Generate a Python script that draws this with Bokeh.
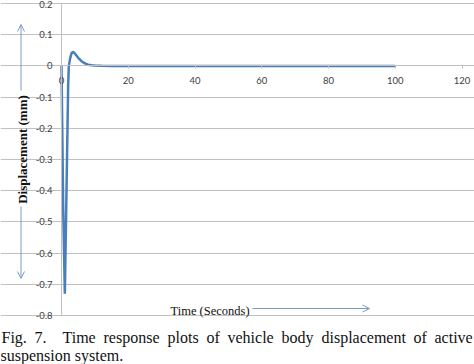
import math
from bokeh.plotting import figure
from bokeh.models import Range1d, FixedTicker, Label, Arrow, OpenHead
from bokeh.embed import file_html
from bokeh.resources import INLINE

# Data
time_s = [0, 0.5, 1.0, 1.5, 2.0, 2.2, 2.6, 3.0, 3.4, 4.0, 5.0, 6.0, 7.0, 8.0, 9.0, 10, 12, 15,
          20, 30, 40, 50, 60, 70, 80, 90, 100]
displacement_mm = [0, -0.45, -0.73, -0.40, -0.06, 0.0, 0.025, 0.040, 0.045, 0.040, 0.026, 0.015,
                   0.008, 0.004, 0.002, 0.001, 0.0003, 0.0,
                   0, 0, 0, 0, 0, 0, 0, 0, 0]

x_ticks = [0, 20, 40, 60, 80, 100, 120]
y_ticks = [0.2, 0.1, 0, -0.1, -0.2, -0.3, -0.4, -0.5, -0.6, -0.7, -0.8]
y_tick_labels = ["0.2", "0.1", "0", "-0.1", "-0.2", "-0.3", "-0.4", "-0.5", "-0.6", "-0.7", "-0.8"]

y_label_text = "Displacement (mm)"
x_label_text = "Time (Seconds)"
caption_line1_words = ["Fig.", "7.", "Time", "response", "plots", "of", "vehicle", "body",
                       "displacement", "of", "active"]
caption_line2 = "suspension system."

W, H = 474, 364
# plot-area placement in pixels (left, right, top, bottom)
PL, PR, PT, PB = 61.0, 461.5, 3.0, 315.0
XMIN, XMAX = 0.0, 120.0
YMIN, YMAX = -0.8, 0.2
sx = (PR - PL) / (XMAX - XMIN)
sy = (PB - PT) / (YMAX - YMIN)
x_range = Range1d(XMIN - PL / sx, XMAX + (W - PR) / sx)
y_range = Range1d(YMIN - (H - PB) / sy, YMAX + PT / sy)

p = figure(width=W, height=H, output_backend="svg", toolbar_location=None,
           x_range=x_range, y_range=y_range,
           min_border=0, min_border_left=0, min_border_right=0,
           min_border_top=0, min_border_bottom=0)
p.outline_line_color = None
p.background_fill_color = "white"
p.border_fill_color = "white"

grid_col = "#c0c0c0"
p.xgrid.visible = False
p.ygrid.ticker = FixedTicker(ticks=y_ticks)
p.ygrid.grid_line_color = grid_col
p.ygrid.grid_line_width = 1
p.ygrid.bounds = (XMIN, XMAX)

# x axis crossing at y=0
xa = p.xaxis[0]
xa.fixed_location = 0
xa.bounds = (XMIN, XMAX)
xa.ticker = FixedTicker(ticks=x_ticks)
xa.axis_line_color = grid_col
xa.major_tick_line_color = grid_col
xa.major_tick_out = 3
xa.major_tick_in = 0
xa.minor_tick_line_color = None
xa.major_label_standoff = 8
xa.major_label_text_font = "Lato"
xa.major_label_text_font_size = "9.5px"
xa.major_label_text_color = "#404040"

ya = p.yaxis[0]
ya.fixed_location = 0
ya.bounds = (YMIN, YMAX)
ya.ticker = FixedTicker(ticks=y_ticks)
ya.major_label_overrides = {t: s for t, s in zip(y_ticks, y_tick_labels)}
ya.axis_line_color = grid_col
ya.major_tick_line_color = grid_col
ya.major_tick_out = 4
ya.major_tick_in = 0
ya.minor_tick_line_color = None
ya.major_label_standoff = 5
ya.major_label_text_font = "Lato"
ya.major_label_text_font_size = "9.5px"
ya.major_label_text_color = "#404040"

p.line(time_s, displacement_mm, line_color="#4a7ebb", line_width=2.5)

serif = "Liberation Serif"
arrow_col = "#7b9cc8"
text_col = "#111111"


def sc(px, py):
    """pixel (from top-left) -> frame screen units (from bottom-left)"""
    return px, H - py


# y label and arrows
lx, ly = sc(22, 149)
p.add_layout(Label(x=lx, y=ly, x_units="screen", y_units="screen", text=y_label_text,
                   angle=math.pi / 2, text_align="center", text_baseline="middle",
                   text_font=serif, text_font_style="bold", text_font_size="13px",
                   text_color=text_col))
for (y0, y1) in [(90, 24), (206, 278)]:
    ax, ay0 = sc(20.5, y0)
    _, ay1 = sc(20.5, y1)
    p.add_layout(Arrow(x_start=ax, y_start=ay0, x_end=ax, y_end=ay1,
                       start_units="screen", end_units="screen",
                       line_color=arrow_col, line_width=1,
                       end=OpenHead(size=7, line_color=arrow_col, line_width=1)))

# x label and arrow
tx, ty = sc(170, 310)
p.add_layout(Label(x=tx, y=ty, x_units="screen", y_units="screen", text=x_label_text,
                   text_align="left", text_baseline="middle",
                   text_font=serif, text_font_size="12.5px", text_color=text_col))
a0x, a0y = sc(252, 308)
a1x, _ = sc(369, 308)
p.add_layout(Arrow(x_start=a0x, y_start=a0y, x_end=a1x, y_end=a0y,
                   start_units="screen", end_units="screen",
                   line_color=arrow_col, line_width=1,
                   end=OpenHead(size=7, line_color=arrow_col, line_width=1)))

# caption (first line justified word by word across the width)
word_x = [1, 34, 62, 103, 167, 206, 227, 281, 321, 413, 434]
for wx, word in zip(word_x, caption_line1_words):
    cx, cy = sc(wx, 337)
    p.add_layout(Label(x=cx, y=cy, x_units="screen", y_units="screen", text=word,
                       text_align="left", text_baseline="middle",
                       text_font=serif, text_font_size="16px", text_color=text_col))
c2x, c2y = sc(0, 355)
p.add_layout(Label(x=c2x, y=c2y, x_units="screen", y_units="screen", text=caption_line2,
                   text_align="left", text_baseline="middle",
                   text_font=serif, text_font_size="16px", text_color=text_col))

open("out.html", "w").write(file_html(p, INLINE))
